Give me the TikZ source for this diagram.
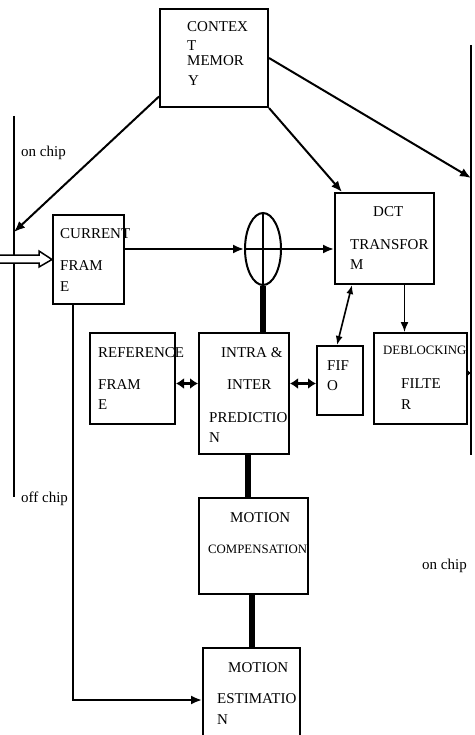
\documentclass[tikz,border=0pt]{standalone}
\usepackage{fontspec}
\setmainfont{Liberation Serif}
\usetikzlibrary{arrows.meta,shapes.geometric}

\begin{document}
\begin{tikzpicture}[x=1pt,y=-1pt,
	blk/.style={draw, line width=2pt, inner sep=0, anchor=north west},
	lbl/.style={anchor=base west, inner sep=0, font=\fontsize{15}{18}\selectfont},
	sml/.style={lbl, font=\fontsize{12.8}{15}\selectfont},
	conn/.style={line width=2pt, -{Latex[length=11pt,width=9pt]}},
	bus/.style={line width=6.5pt},
	dbl/.style={line width=3pt, {Latex[length=8pt,width=11pt]}-{Latex[length=8pt,width=11pt]}}]
	\clip (0,0) rectangle (474,735);
	% chip borders
	\coordinate (lt) at (14,116); \coordinate (lb) at (14,497);
	\coordinate (rt) at (471,45); \coordinate (rb) at (471,455);
	\coordinate (lin) at (14,232); \coordinate (rin) at (471,178); \coordinate (rdb) at (471,373);
	\draw[line width=2pt] (lt) -- (lb);
	\draw[line width=2.5pt] (rt) -- (rb);
	\node[lbl] (onl) at (21,157) {on chip};
	\node[lbl] (offl) at (21,502) {off chip};
	\node[lbl] (onr) at (422,569) {on chip};
	% blocks
	\node[blk, minimum width=108pt, minimum height=98pt] (ctx) at (159,8) {};
	\node[blk, minimum width=71pt, minimum height=89pt] (cur) at (52,214) {};
	\node[blk, minimum width=99pt, minimum height=91pt] (dct) at (334,192) {};
	\node[blk, minimum width=85pt, minimum height=91pt] (ref) at (89,332) {};
	\node[blk, minimum width=90pt, minimum height=121pt] (pred) at (198,332) {};
	\node[blk, minimum width=46pt, minimum height=69pt] (fifo) at (316,345) {};
	\node[blk, minimum width=93pt, minimum height=91pt] (dbf) at (373,332) {};
	\node[blk, minimum width=109pt, minimum height=96pt] (mc) at (198,497) {};
	\node[blk, minimum width=97pt, minimum height=104pt] (me) at (202,647) {};
	\node[draw, ellipse, line width=2pt, minimum width=36pt, minimum height=72pt, inner sep=0] (sum) at (263,249) {};
	\draw[line width=2pt] (sum.north) -- (sum.south) (sum.west) -- (sum.east);
	% texts
	\node[lbl] (ctx1) at (187,32) {CONTEX};
	\node[lbl] (ctx2) at (187,51) {T};
	\node[lbl] (ctx3) at (187,66) {MEMOR};
	\node[lbl] (ctx4) at (188,86) {Y};
	\node[lbl] (cur1) at (60,238) {CURRENT};
	\node[lbl] (cur2) at (60,270) {FRAM};
	\node[lbl] (cur3) at (60,291) {E};
	\node[lbl] (dct1) at (373,217) {DCT};
	\node[lbl] (dct2) at (350,249) {TRANSFOR};
	\node[lbl] (dct3) at (350,269) {M};
	\node[lbl] (ref1) at (98,357) {REFERENCE};
	\node[lbl] (ref2) at (98,389) {FRAM};
	\node[lbl] (ref3) at (98,409) {E};
	\node[lbl] (pred1) at (221,357) {INTRA \&};
	\node[lbl] (pred2) at (227,389) {INTER};
	\node[lbl] (pred3) at (209,422) {PREDICTIO};
	\node[lbl] (pred4) at (209,442) {N};
	\node[lbl] (fifo1) at (327,370) {FIF};
	\node[lbl] (fifo2) at (327,390) {O};
	\node[sml] (dbf1) at (383,354) {DEBLOCKING};
	\node[lbl] (dbf2) at (401,388) {FILTE};
	\node[lbl] (dbf3) at (401,409) {R};
	\node[lbl] (mc1) at (230,522) {MOTION};
	\node[sml] (mc2) at (208,553) {COMPENSATION};
	\node[lbl] (me1) at (228,672) {MOTION};
	\node[lbl] (me2) at (217,703) {ESTIMATIO};
	\node[lbl] (me3) at (217,724) {N};
	% input arrow
	\draw[line width=1.5pt, fill=white] (0,255) -- (39,255) -- (39,251) -- (cur.west) -- (39,267) -- (39,263) -- (0,263);
	% connectors
	\draw[conn] (ctx.215) -- (lin);
	\draw[conn] (ctx.east) -- (rin);
	\draw[conn] (ctx.south east) -- ([xshift=8pt]dct.north west);
	\draw[conn] (cur.east |- sum.west) -- (sum.west);
	\draw[conn] (sum.east) -- (sum.east -| dct.west);
	\draw[bus] (sum.south) -- (sum.south |- pred.north);
	\draw[dbl] ([yshift=-5pt]ref.east) -- ([yshift=-5pt]ref.east -| pred.west);
	\draw[dbl] ([yshift=-3pt]fifo.west -| pred.east) -- ([yshift=-3pt]fifo.west);
	\draw[line width=1.6pt, {Latex[length=9pt,width=7pt]}-{Latex[length=9pt,width=7pt]}] ([xshift=-3pt]fifo.north) -- ([xshift=18pt]dct.south west);
	\draw[line width=1.5pt, -{Latex[length=10pt,width=8pt]}] ([xshift=20pt]dct.south) -- ([xshift=20pt]dct.south |- dbf.north);
	\draw[line width=2.5pt, -{Latex[length=4pt,width=7pt]}] (dbf.east |- rdb) -- (rdb);
	\draw[bus] ([xshift=4pt]pred.south) -- ([xshift=4pt]pred.south |- mc.north);
	\draw[bus] ([xshift=-1.5pt]mc.south) -- ([xshift=-1.5pt]mc.south |- me.north);
	\draw[conn] ([xshift=-15.5pt]cur.south) |- (me.west);
\end{tikzpicture}
\end{document}
